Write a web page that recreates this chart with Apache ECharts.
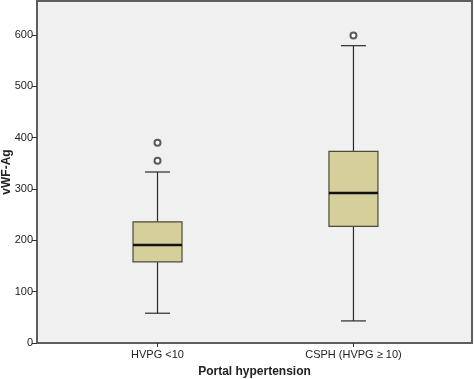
<!DOCTYPE html>
<html>
<head>
<meta charset="utf-8">
<script src="https://cdn.jsdelivr.net/npm/echarts@6/dist/echarts.min.js"></script>
<style>
html,body{margin:0;padding:0;background:#fff;}
#c{width:474px;height:379px;}
</style>
</head>
<body>
<div id="c"></div>
<script>
var categories = ['HVPG <10', 'CSPH (HVPG \u2265 10)'];
var positions = [1, 2];
var whiskerLow = [58, 43];
var q1 = [158, 227];
var median = [191, 292];
var q3 = [236, 373];
var whiskerHigh = [333, 579];
var outliers = [[355, 390], [599]];
var yTicks = [0, 100, 200, 300, 400, 500, 600];

var boxData = categories.map(function (c, i) {
  return [positions[i], whiskerLow[i], q1[i], median[i], q3[i], whiskerHigh[i]];
});
var outlierData = [];
outliers.forEach(function (arr, i) {
  arr.forEach(function (v) { outlierData.push([positions[i], v]); });
});

var chart = echarts.init(document.getElementById('c'));
var BOX_HALF = 24.5, CAP_HALF = 12.5;
chart.setOption({
  animation: false,
  backgroundColor: '#ffffff',
  grid: {
    left: 37, right: 2, top: 1, bottom: 36,
    containLabel: false, outerBoundsMode: 'none',
    show: true, backgroundColor: '#f0f0f0', borderColor: '#5e5e5e', borderWidth: 2
  },
  xAxis: {
    type: 'value', min: 0.385, max: 2.605,
    splitLine: { show: false },
    axisLine: { show: true, lineStyle: { color: '#5e5e5e', width: 2 } },
    axisTick: { show: true, customValues: positions, length: 4, lineStyle: { color: '#333', width: 1 } },
    axisLabel: {
      customValues: positions, margin: 6, color: '#222',
      fontFamily: 'Liberation Sans', fontSize: 11,
      formatter: function (v) { var i = positions.indexOf(v); return i >= 0 ? categories[i] : ''; }
    },
    name: 'Portal hypertension', nameLocation: 'middle', nameGap: 23, nameMoveOverlap: false,
    nameTextStyle: { fontFamily: 'Liberation Sans', fontSize: 12, fontWeight: 'bold', color: '#222' }
  },
  yAxis: {
    type: 'value', min: 0, max: 666,
    splitLine: { show: false },
    axisLine: { show: true, lineStyle: { color: '#5e5e5e', width: 2 } },
    axisTick: { show: true, customValues: yTicks, length: 5, lineStyle: { color: '#333', width: 1 } },
    axisLabel: { customValues: yTicks, margin: 4, color: '#222', fontFamily: 'Liberation Sans', fontSize: 11 },
    name: 'vWF-Ag', nameLocation: 'middle', nameGap: 24, nameMoveOverlap: false,
    nameTextStyle: { fontFamily: 'Liberation Sans', fontSize: 12, fontWeight: 'bold', color: '#222' }
  },
  series: [
    {
      type: 'custom',
      data: boxData,
      encode: { x: 0, y: [1, 2, 3, 4, 5] },
      renderItem: function (params, api) {
        var x = api.value(0);
        var pLow = api.coord([x, api.value(1)]);
        var pQ1 = api.coord([x, api.value(2)]);
        var pMed = api.coord([x, api.value(3)]);
        var pQ3 = api.coord([x, api.value(4)]);
        var pHigh = api.coord([x, api.value(5)]);
        var cx = pMed[0];
        var line = { stroke: '#2a2a2a', lineWidth: 1.2 };
        return {
          type: 'group',
          children: [
            { type: 'line', shape: { x1: cx, y1: pQ3[1], x2: cx, y2: pHigh[1] }, style: line },
            { type: 'line', shape: { x1: cx, y1: pQ1[1], x2: cx, y2: pLow[1] }, style: line },
            { type: 'line', shape: { x1: cx - CAP_HALF, y1: pHigh[1], x2: cx + CAP_HALF, y2: pHigh[1] }, style: line },
            { type: 'line', shape: { x1: cx - CAP_HALF, y1: pLow[1], x2: cx + CAP_HALF, y2: pLow[1] }, style: line },
            { type: 'rect', shape: { x: cx - BOX_HALF, y: pQ3[1], width: BOX_HALF * 2, height: pQ1[1] - pQ3[1] },
              style: { fill: '#d4cf9b', stroke: '#4a4a3a', lineWidth: 1.2 } },
            { type: 'line', shape: { x1: cx - BOX_HALF, y1: pMed[1], x2: cx + BOX_HALF, y2: pMed[1] },
              style: { stroke: '#111', lineWidth: 2.5 } }
          ]
        };
      }
    },
    {
      type: 'scatter',
      data: outlierData,
      symbol: 'emptyCircle',
      symbolSize: 6,
      itemStyle: { color: '#333', borderColor: '#333', borderWidth: 1.5 }
    }
  ]
});
</script>
</body>
</html>
